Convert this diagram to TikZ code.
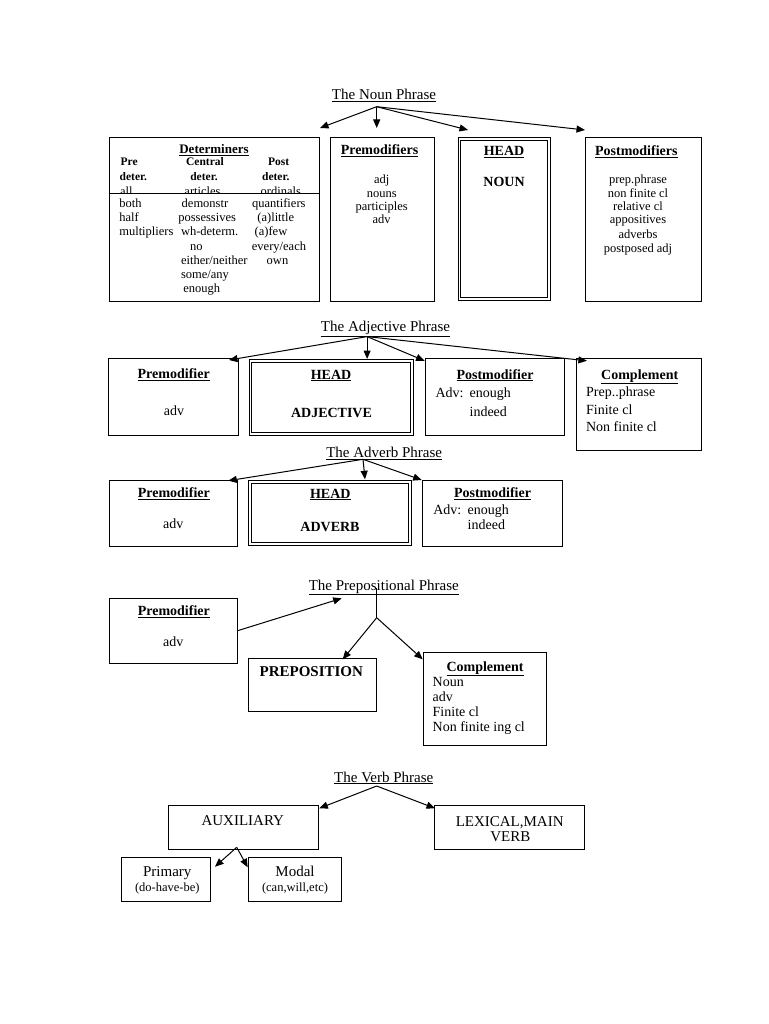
\documentclass[tikz,border=0pt]{standalone}
\usepackage{fontspec}
\setmainfont{Liberation Serif}
\usetikzlibrary{arrows.meta}
\begin{document}
\begin{tikzpicture}[x=1pt,y=-1pt]
\tikzset{
 box/.style={draw, line width=1pt, inner sep=0pt, outer sep=0pt},
 dbox/.style={box, double, double distance=1.8pt},
 arr/.style={line width=1pt, -{Triangle[length=8.5pt,width=7pt]}},
 conn/.style={line width=1pt},
 lbl/.style={inner sep=0pt, outer sep=0pt, anchor=base},
 lblw/.style={inner sep=0pt, outer sep=0pt, anchor=base west},
 ttl/.style={font=\fontsize{15}{18}\selectfont},
 hd/.style={font=\fontsize{14}{17}\selectfont\bfseries},
 hdb/.style={font=\fontsize{15}{18}\selectfont\bfseries},
 rg/.style={font=\fontsize{14}{17}\selectfont},
 sm/.style={font=\fontsize{12.5}{14}\selectfont},
 sb/.style={font=\fontsize{11.5}{13}\selectfont\bfseries},
}
\fill[white] (0,0) rectangle (768,1024);
\useasboundingbox (0,0) rectangle (768,1024);

% ===== Noun Phrase =====
\node[lbl,ttl] (npt) at (384,100) {\underline{The Noun Phrase}};
\coordinate (npo) at (376.7,106.7);
\coordinate (npa) at (320,128);
\coordinate (npb) at (376.7,128);
\coordinate (npc) at (468,130);
\coordinate (npd) at (585,130);
\draw[arr] (npo) -- (npa);
\draw[arr] (npo) -- (npb);
\draw[arr] (npo) -- (npc);
\draw[arr] (npo) -- (npd);

\node[box, minimum width=209.7pt, minimum height=163.7pt] (det) at (214.15,219.15) {};
\node[box, minimum width=103.6pt, minimum height=163.7pt] (npre) at (382.5,219.15) {};
\node[dbox, minimum width=89.4pt, minimum height=160.1pt] (nhead) at (504.2,219.15) {};
\node[box, minimum width=116.4pt, minimum height=163.7pt] (npost) at (643.5,219.15) {};

\begin{scope}
\clip (109.3,137.3) rectangle (319,193.3);
\node[lbl, font=\fontsize{13}{15}\selectfont\bfseries] (dh) at (214,153.3) {\underline{Determiners}};
\node[lblw,sb] (d1a) at (120.7,165.5) {Pre};
\node[lblw,sb] (d1b) at (119.7,180.5) {deter.};
\node[lblw,sm] (d1c) at (120,195.8) {all};
\node[lbl,sb] (d2a) at (205,165.5) {Central};
\node[lbl,sb] (d2b) at (204,180.5) {deter.};
\node[lbl,sm] (d2c) at (202.5,195.8) {articles};
\node[lbl,sb] (d3a) at (278.7,165.5) {Post};
\node[lbl,sb] (d3b) at (275.8,180.5) {deter.};
\node[lbl,sm] (d3c) at (280.8,195.8) {ordinals};
\end{scope}
\coordinate (dl) at (109.3,193.3);
\coordinate (dr) at (319,193.3);
\draw[conn] (dl) -- (dr);

\node[lblw,sm] (e1) at (119.3,208) {both};
\node[lblw,sm] (e2) at (119.3,222) {half};
\node[lblw,sm] (e3) at (119.3,236) {multipliers};
\node[lblw,sm] (f1) at (181.7,208) {demonstr};
\node[lblw,sm] (f2) at (178.3,222) {possessives};
\node[lblw,sm] (f3) at (181,236) {wh-determ.};
\node[lblw,sm] (f4) at (190,250) {no};
\node[lblw,sm] (f5) at (181,264) {either/neither};
\node[lblw,sm] (f6) at (181,278) {some/any};
\node[lblw,sm] (f7) at (183.3,292) {enough};
\node[lbl,sm] (g1) at (278.8,208) {quantifiers};
\node[lbl,sm] (g2) at (275.8,222) {(a)little};
\node[lbl,sm] (g3) at (271,236) {(a)few};
\node[lbl,sm] (g4) at (279,250) {every/each};
\node[lbl,sm] (g5) at (277.5,264) {own};

\node[lbl,hd] (prh) at (379.5,154.6) {\underline{Premodifiers}};
\node[lbl,sm] (pr1) at (381.7,184) {adj};
\node[lbl,sm] (pr2) at (381.7,197.4) {nouns};
\node[lbl,sm] (pr3) at (381.7,210.7) {participles};
\node[lbl,sm] (pr4) at (381.7,224) {adv};

\node[lbl,hd] (nhh) at (504,155.6) {\underline{HEAD}};
\node[lbl,hd] (nhn) at (504,186.3) {NOUN};

\node[lbl,hd] (poh) at (636.3,155.6) {\underline{Postmodifiers}};
\node[lbl,sm] (po1) at (638,184) {prep.phrase};
\node[lbl,sm] (po2) at (638,197.4) {non finite cl};
\node[lbl,sm] (po3) at (638,210.7) {relative cl};
\node[lbl,sm] (po4) at (638,224) {appositives};
\node[lbl,sm] (po5) at (638,238) {adverbs};
\node[lbl,sm] (po6) at (638,252.3) {postposed adj};

% ===== Adjective Phrase =====
\node[lbl,ttl] (ajt) at (385.5,331.5) {\underline{The Adjective Phrase}};
\coordinate (ajo) at (367.1,336.6);
\coordinate (aja) at (229,360);
\coordinate (ajb) at (367.1,359);
\coordinate (ajc) at (424.6,360.8);
\coordinate (ajd) at (586.9,360.8);
\draw[arr] (ajo) -- (aja);
\draw[arr] (ajo) -- (ajb);
\draw[arr] (ajo) -- (ajc);
\draw[arr] (ajo) -- (ajd);

\node[box, minimum width=130.2pt, minimum height=77pt] (ajpre) at (173.7,397.4) {};
\node[dbox, minimum width=161.4pt, minimum height=73.4pt] (ajhead) at (331.1,397.4) {};
\node[box, minimum width=139.2pt, minimum height=77pt] (ajpost) at (495,397.4) {};
\node[box, minimum width=125.1pt, minimum height=91.9pt] (ajcomp) at (638.55,404.85) {};

\node[lbl,hd] (aj1) at (173.7,378.3) {\underline{Premodifier}};
\node[lbl,rg] (aj2) at (173.9,415.5) {adv};
\node[lbl,hd] (aj3) at (331,379) {\underline{HEAD}};
\node[lbl,hd] (aj4) at (331.5,417.5) {ADJECTIVE};
\node[lbl,hd] (aj5) at (495,379) {\underline{Postmodifier}};
\node[lblw,rg] (aj6) at (435.5,397.5) {Adv:};
\node[lblw,rg] (aj7) at (469.6,397.5) {enough};
\node[lblw,rg] (aj8) at (469.6,416.3) {indeed};
\node[lbl,hd] (aj9) at (639.7,379) {\underline{Complement}};
\node[lblw,rg] (aj10) at (586.1,396.7) {Prep..phrase};
\node[lblw,rg] (aj11) at (586.1,414.3) {Finite cl};
\node[lblw,rg] (aj12) at (586.1,431.9) {Non finite cl};

% ===== Adverb Phrase =====
\node[lbl,ttl] (avt) at (384.2,457.5) {\underline{The Adverb Phrase}};
\coordinate (avo) at (363,459.3);
\coordinate (ava) at (228.3,480.7);
\coordinate (avb) at (365,479.3);
\coordinate (avc) at (421.7,480);
\draw[arr] (avo) -- (ava);
\draw[arr] (avo) -- (avb);
\draw[arr] (avo) -- (avc);

\node[box, minimum width=128pt, minimum height=66pt] (avpre) at (173.3,513) {};
\node[dbox, minimum width=159.8pt, minimum height=62.4pt] (avhead) at (330,513) {};
\node[box, minimum width=140pt, minimum height=66pt] (avpost) at (492.7,513) {};

\node[lbl,hd] (av1) at (173.8,497.3) {\underline{Premodifier}};
\node[lbl,rg] (av2) at (173.3,528) {adv};
\node[lbl,hd] (av3) at (330.3,498) {\underline{HEAD}};
\node[lbl,hd] (av4) at (330,531.3) {ADVERB};
\node[lbl,hd] (av5) at (492.5,497.3) {\underline{Postmodifier}};
\node[lblw,rg] (av6) at (433.3,514.6) {Adv:};
\node[lblw,rg] (av7) at (467.7,514.6) {enough};
\node[lblw,rg] (av8) at (467.7,529.6) {indeed};

% ===== Prepositional Phrase =====
\node[lbl,ttl] (ppt) at (383.8,590) {\underline{The Prepositional Phrase}};
\coordinate (ppo) at (376.7,588.3);
\coordinate (pps) at (376.7,617.7);
\coordinate (ppa) at (342.7,659.3);
\coordinate (ppb) at (422.7,659.3);
\coordinate (ppm) at (341.7,598.3);
\draw[conn] (ppo) -- (pps);
\draw[arr] (pps) -- (ppa);
\draw[arr] (pps) -- (ppb);

\node[box, minimum width=128pt, minimum height=65pt] (pppre) at (173.3,630.8) {};
\node[box, minimum width=128.4pt, minimum height=53.4pt] (ppprep) at (312.5,685) {};
\node[box, minimum width=122.7pt, minimum height=92.3pt] (ppcomp) at (484.65,698.85) {};
\draw[arr] (pppre.east) -- (ppm);

\node[lbl,hd] (pp1) at (173.8,615.3) {\underline{Premodifier}};
\node[lbl,rg] (pp2) at (173.3,646.3) {adv};
\node[lbl,hdb] (pp3) at (311.3,676) {PREPOSITION};
\node[lbl,hd] (pp4) at (485,671.3) {\underline{Complement}};
\node[lblw,rg] (pp5) at (432.7,686.3) {Noun};
\node[lblw,rg] (pp6) at (432.7,701.3) {adv};
\node[lblw,rg] (pp7) at (432.7,716.3) {Finite cl};
\node[lblw,rg] (pp8) at (432.7,731.3) {Non finite ing cl};

% ===== Verb Phrase =====
\node[lbl,ttl] (vpt) at (383.8,782) {\underline{The Verb Phrase}};
\coordinate (vpo) at (376.7,786);
\coordinate (vpa) at (319.3,808.3);
\coordinate (vpb) at (435,808.3);
\draw[arr] (vpo) -- (vpa);
\draw[arr] (vpo) -- (vpb);

\node[box, minimum width=150pt, minimum height=44.3pt] (aux) at (243.3,827.15) {};
\node[box, minimum width=150pt, minimum height=44.3pt] (lex) at (509,827.15) {};
\node[box, minimum width=88.3pt, minimum height=44pt] (prim) at (165.85,879.7) {};
\node[box, minimum width=93.4pt, minimum height=44pt] (modal) at (295,879.7) {};

\coordinate (auo) at (236.7,847.3);
\coordinate (aua) at (215,866.7);
\coordinate (aub) at (247.7,867.3);
\draw[arr] (auo) -- (aua);
\draw[arr] (auo) -- (aub);

\node[lbl,ttl] (vp1) at (242.8,825) {AUXILIARY};
\node[lbl,ttl] (vp2) at (509.7,826) {LEXICAL,MAIN};
\node[lbl,ttl] (vp3) at (510.3,841) {VERB};
\node[lbl,ttl] (vp4) at (167.3,876.7) {Primary};
\node[lbl,sm] (vp5) at (167.3,891.8) {(do-have-be)};
\node[lbl,ttl] (vp6) at (295,876.7) {Modal};
\node[lbl,sm] (vp7) at (295,891.8) {(can,will,etc)};
\end{tikzpicture}
\end{document}
